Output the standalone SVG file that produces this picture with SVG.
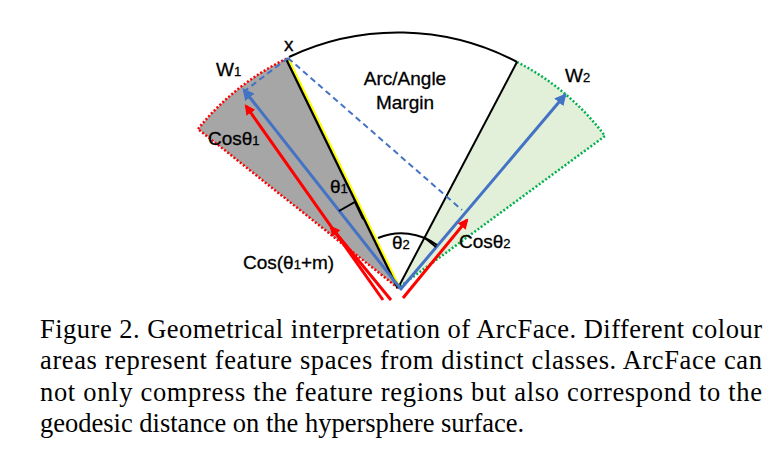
<svg xmlns="http://www.w3.org/2000/svg" width="775" height="453" viewBox="0 0 775 453">
<defs>
<style>
.l{font-family:"Liberation Sans",Arial,sans-serif;font-size:19px;fill:#000;stroke:#000;stroke-width:0.3}
.c{font-family:"Liberation Serif","Times New Roman",serif;font-size:26.5px;fill:#000}
</style>
<marker id="ab" viewBox="0 0 10 10" refX="8" refY="5" markerWidth="4" markerHeight="4" orient="auto"><path d="M0,0L10,5L0,10z" fill="#4472c4"/></marker>
<marker id="ar" viewBox="0 0 10 10" refX="8" refY="5" markerWidth="3.5" markerHeight="3.5" orient="auto"><path d="M0,0L10,5L0,10z" fill="#ff0000"/></marker>
</defs>
<rect width="775" height="453" fill="#fff"/>
<g id="sector1">
<path d="M398,288 L198,129 A255,255 0 0 1 288,58 Z" fill="#a6a6a6"/>
<path d="M198,129 A255,255 0 0 1 288,58" fill="none" stroke="#ff0000" stroke-width="2.5" stroke-dasharray="2,2"/>
<path d="M398,288 L198,129" stroke="#ff0000" stroke-width="2.5" stroke-dasharray="2,2"/>
</g>
<g id="sector2">
<path d="M398,288 L517,62 A255,255 0 0 1 605,136 Z" fill="#e2f0d9"/>
<path d="M517,62 A255,255 0 0 1 605,136 L398,288" fill="none" stroke="#00b050" stroke-width="2.5" stroke-dasharray="2,2"/>
<path d="M398,288 L517,62" stroke="#000" stroke-width="2"/>
</g>
<g id="margin">
<path d="M289,57 A255,255 0 0 1 517,62" fill="none" stroke="#000" stroke-width="2"/>
</g>
<g id="connectors">
<line x1="398" y1="288" x2="287" y2="60" stroke="#000" stroke-width="3"/>
<line x1="399" y1="286" x2="289" y2="60" stroke="#ffff00" stroke-width="2"/>
<line x1="288" y1="58" x2="246" y2="90" stroke="#4472c4" stroke-width="2" stroke-dasharray="6,4"/>
<line x1="288" y1="58" x2="462" y2="210" stroke="#4472c4" stroke-width="2" stroke-dasharray="6,4"/>
<line x1="383" y1="300" x2="246" y2="106" stroke="#ff0000" stroke-width="3" marker-end="url(#ar)"/>
<line x1="391" y1="300" x2="331" y2="227" stroke="#ff0000" stroke-width="3" marker-end="url(#ar)"/>
<line x1="400" y1="288" x2="244" y2="90" stroke="#4472c4" stroke-width="3" marker-end="url(#ab)"/>
<line x1="403" y1="298" x2="467" y2="220" stroke="#ff0000" stroke-width="3" marker-end="url(#ar)"/>
<line x1="400" y1="290" x2="565" y2="95" stroke="#4472c4" stroke-width="3" marker-end="url(#ab)"/>
<polyline points="339,211 355,202 363,219" fill="none" stroke="#000" stroke-width="2"/>
<path d="M378,238 A60,60 0 0 1 437,245" fill="none" stroke="#000" stroke-width="2"/>
<line x1="425" y1="238" x2="436" y2="247" stroke="#000" stroke-width="2"/>
</g>
<g id="labels">
<text class="l" x="284" y="51">x</text>
<text class="l" x="216" y="76">W<tspan font-size="13">1</tspan></text>
<text class="l" x="405" y="85" text-anchor="middle">Arc/Angle</text>
<text class="l" x="405" y="109" text-anchor="middle">Margin</text>
<text class="l" x="565" y="82">W<tspan font-size="13">2</tspan></text>
<text class="l" x="208" y="145">Cosθ<tspan font-size="13">1</tspan></text>
<text class="l" x="330" y="193">θ<tspan font-size="13">1</tspan></text>
<text class="l" x="392" y="249">θ<tspan font-size="13">2</tspan></text>
<text class="l" x="459" y="248">Cosθ<tspan font-size="13">2</tspan></text>
<text class="l" x="243" y="269">Cos(θ<tspan font-size="13">1</tspan>+m)</text>
</g>
<g id="caption">
<text class="c" x="40" y="338" textLength="722" lengthAdjust="spacing">Figure 2. Geometrical interpretation of ArcFace. Different colour</text>
<text class="c" x="40" y="369" textLength="722" lengthAdjust="spacing">areas represent feature spaces from distinct classes.  ArcFace can</text>
<text class="c" x="40" y="401" textLength="722" lengthAdjust="spacing">not only compress the feature regions but also correspond to the</text>
<text class="c" x="40" y="432">geodesic distance on the hypersphere surface.</text>
</g>
</svg>
